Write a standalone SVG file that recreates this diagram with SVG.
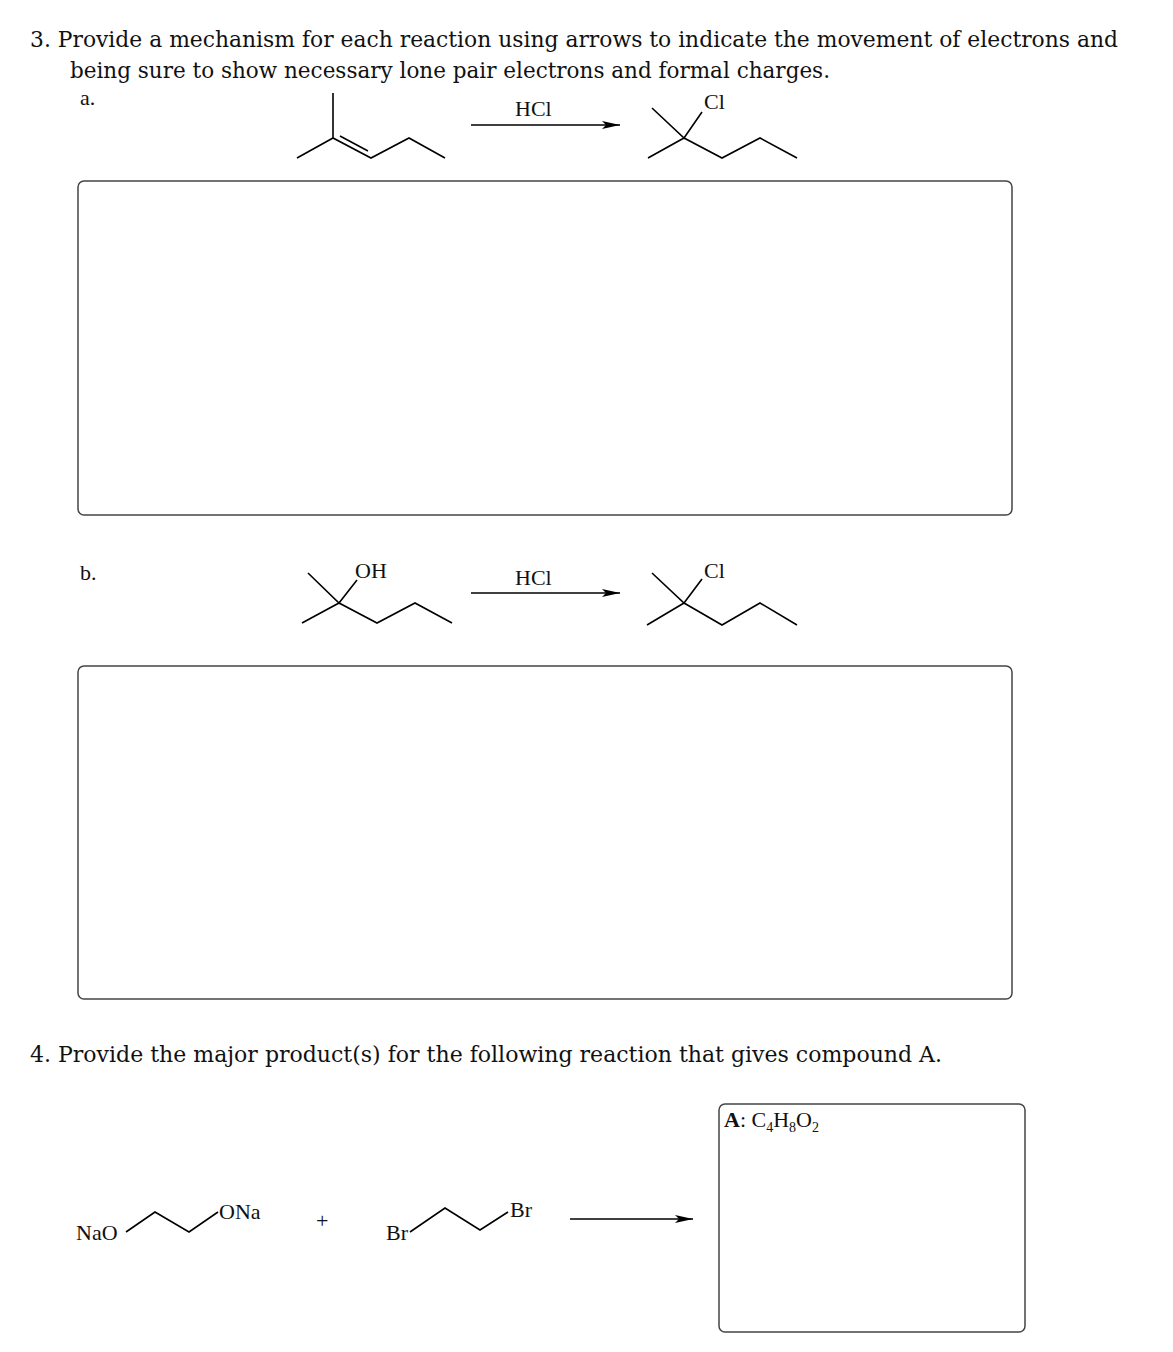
<svg xmlns="http://www.w3.org/2000/svg" width="1173" height="1352" viewBox="0 0 1173 1352">
<style>
.q{font-family:"DejaVu Serif","Liberation Serif",serif;font-size:22px;fill:#111}
.t{font-family:"Liberation Serif",serif;font-size:22px;fill:#111}
.b{fill:none;stroke:#000;stroke-width:1.6}
.box{fill:#fff;stroke:#444;stroke-width:1.5}
</style>
<defs><marker id="ah" markerWidth="18" markerHeight="8" refX="18" refY="4" orient="auto" markerUnits="userSpaceOnUse"><path d="M0,0 L18,4 L0,8 L4,4 Z" fill="#000"/></marker></defs>
<rect width="1173" height="1352" fill="#fff"/>
<text class="q" x="30" y="47" textLength="1088" lengthAdjust="spacingAndGlyphs">3.  Provide a mechanism for each reaction using arrows to indicate the movement of electrons and</text>
<text class="q" x="70" y="78" textLength="760" lengthAdjust="spacingAndGlyphs">being sure to show necessary lone pair electrons and formal charges.</text>
<text class="t" x="80" y="105">a.</text>
<text class="t" x="80" y="580">b.</text>
<text class="q" x="30" y="1062" textLength="912" lengthAdjust="spacingAndGlyphs">4.  Provide the major product(s) for the following reaction that gives compound A.</text>
<g id="molA1"><path class="b" d="M333,93 L333,138 M297,158 L333,138 L371,158 L409,138 L445,158 M340,136 L368,151"/></g>
<g id="molA2"><path class="b" d="M652,108 L684,138 L702,112 M648,158 L684,138 L722,158 L760,138 L797,158"/><text class="t" x="704" y="109">Cl</text></g>
<g id="molB1"><path class="b" d="M308,573 L339,603 L357,580 M302,623 L339,603 L377,623 L415,603 L452,623"/><text class="t" x="355" y="578">OH</text></g>
<g id="molB2"><path class="b" d="M652,573 L684,603 L702,579 M647,625 L684,603 L722,625 L760,603 L797,625"/><text class="t" x="704" y="578">Cl</text></g>
<g id="boxA"><rect class="box" x="78" y="181" width="934" height="334" rx="6"/></g>
<g id="boxB"><rect class="box" x="78" y="666" width="934" height="333" rx="6"/></g>
<g id="boxC"><rect class="box" x="719" y="1104" width="306" height="228" rx="6"/>
<text class="t" x="724" y="1127"><tspan font-weight="bold">A</tspan>: C<tspan font-size="14" dy="5">4</tspan><tspan dy="-5">H</tspan><tspan font-size="14" dy="5">8</tspan><tspan dy="-5">O</tspan><tspan font-size="14" dy="5">2</tspan></text></g>
<g id="molC1"><text class="t" x="76" y="1240">NaO</text><path class="b" d="M126,1232 L155,1212 L189,1232 L218,1212"/><text class="t" x="219" y="1219">ONa</text></g>
<text class="t" x="316" y="1228">+</text>
<g id="molC2"><text class="t" x="386" y="1240">Br</text><path class="b" d="M410,1232 L445,1208 L480,1230 L508,1212"/><text class="t" x="510" y="1217">Br</text></g>
<g id="connectors">
<line class="b" x1="471" y1="125" x2="620" y2="125" marker-end="url(#ah)"/>
<line class="b" x1="471" y1="593" x2="620" y2="593" marker-end="url(#ah)"/>
<line class="b" x1="570" y1="1219" x2="693" y2="1219" marker-end="url(#ah)"/>
</g>
<text class="t" x="515" y="116">HCl</text>
<text class="t" x="515" y="585">HCl</text>
</svg>
